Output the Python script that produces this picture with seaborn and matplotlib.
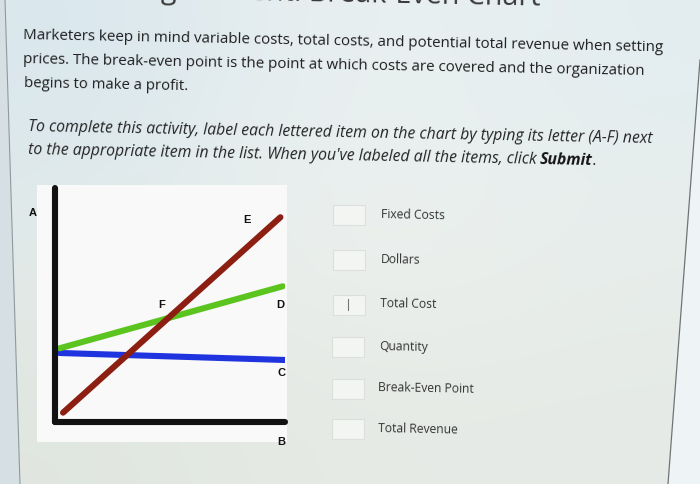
import numpy as np
import pandas as pd
import matplotlib
matplotlib.use("Agg")
import matplotlib.pyplot as plt
import seaborn as sns
from matplotlib.patches import Rectangle, Polygon

# ---------------- data ----------------
series_names = ["Fixed Costs", "Total Cost", "Total Revenue"]
fixed_q = [0.2, 10.0]
fixed_v = [2.95, 2.65]
total_cost_q = [0.2, 9.9]
total_cost_v = [3.15, 5.8]
revenue_q = [0.35, 9.8]
revenue_v = [0.4, 8.75]
line_colors = ["#1f33de", "#5cc41f", "#8c1f12"]

list_items = ["Fixed Costs", "Dollars", "Total Cost", "Quantity",
              "Break-Even Point", "Total Revenue"]
chart_letters = ["A", "E", "F", "D", "C", "B"]

title = "Marketing Element: Break-Even Chart"
para1 = ["Marketers keep in mind variable costs, total costs, and potential total revenue when setting",
         "prices. The break-even point is the point at which costs are covered and the organization",
         "begins to make a profit."]
para2_l1 = "To complete this activity, label each lettered item on the chart by typing its letter (A-F) next"
para2_l2 = ["to the appropriate item in the list. When you've labeled all the items, click ", "Submit", "."]

df = pd.DataFrame({
    "quantity": fixed_q + total_cost_q + revenue_q,
    "dollars": fixed_v + total_cost_v + revenue_v,
    "series": [series_names[0]] * 2 + [series_names[1]] * 2 + [series_names[2]] * 2,
})

# ---------------- figure ----------------
W, H = 700, 484
fig = plt.figure(figsize=(7, 4.84), dpi=100)
bg = fig.add_axes([0, 0, 1, 1])
bg.set_xlim(0, W)
bg.set_ylim(H, 0)
bg.axis("off")

def hx(c):
    c = c.lstrip("#")
    return [int(c[i:i + 2], 16) / 255 for i in (0, 2, 4)]

grad = np.array([
    [hx("#d9e7ed"), hx("#ecf1f1"), hx("#e3edf0")],
    [hx("#e2eaea"), hx("#eff2ef"), hx("#e8eeeb")],
    [hx("#e0e6df"), hx("#e7ebe6"), hx("#e5eae6")],
])
bg.imshow(grad, extent=(0, W, H, 0), interpolation="bicubic", aspect="auto", zorder=0)

# screen edges (photo)
bg.add_patch(Polygon([(0, 0), (5, 0), (20, H), (0, H)], closed=True,
                     facecolor="#d6e0e4", edgecolor="none", zorder=1))
bg.plot([5, 20], [0, H], color="#8e9a9e", lw=0.8, zorder=1.1)
bg.add_patch(Polygon([(700, 60), (668, H), (700, H)], closed=True,
                     facecolor="#eef3f6", edgecolor="none", zorder=1))
bg.plot([700, 668], [60, H], color="#6f7475", lw=0.9, zorder=1.1)

# white chart panel
bg.add_patch(Rectangle((37, 185), 250, 257, facecolor="#f8f9f8", edgecolor="none", zorder=1))

renderer = fig.canvas.get_renderer()
ROT = -1.1
rad = np.deg2rad(-ROT)

def measure(s, **kw):
    t = bg.text(0, 0, s, fontsize=10, **kw)
    w = t.get_window_extent(renderer).width
    t.remove()
    return w

def fit_text(x, y, s, target_w, ha="left", **kw):
    w = measure(s, **kw)
    fs = 10 * target_w / w
    bg.text(x, y, s, fontsize=fs, ha=ha, va="baseline", rotation=ROT,
            rotation_mode="anchor", zorder=3, **kw)
    return fs

body = dict(family="Open Sans", color="#1f1f1f")
ital = dict(family="Open Sans", color="#242424", style="italic")

# title (cut at the top, as in the photo)
wb = measure("Break-Even Chart", family="Open Sans")
fs_t = 10 * 230 / wb
bg.text(540, 5.5, title, fontsize=fs_t, ha="right", va="baseline", rotation=ROT,
        rotation_mode="anchor", family="Open Sans", color="#3a3a3a", zorder=3)

fit_text(23, 39, para1[0], 642, **body)
fit_text(23, 63, para1[1], 622, **body)
fit_text(24, 87, para1[2], 164, **body)
fit_text(28, 131, para2_l1, 625, **ital)

# mixed italic / bold italic line
styles = [dict(ital), dict(ital, weight="bold", color="#151515"), dict(ital)]
ws = [measure(p, **st) for p, st in zip(para2_l2, styles)]
scale = 569 / sum(ws)
cum = 0.0
for p, st, w in zip(para2_l2, styles, ws):
    x = 28 + cum * np.cos(rad)
    y = 154 + cum * np.sin(rad)
    bg.text(x, y, p, fontsize=10 * scale, ha="left", va="baseline", rotation=ROT,
            rotation_mode="anchor", zorder=3, **st)
    cum += w * scale

# list with input boxes
box_x = [333, 333, 333, 332, 332, 332]
box_y = [205, 250, 295, 337, 379, 419]
lab_x = [381, 381, 380, 379, 378, 378]
lab_y = [215, 260, 304, 347, 388, 429]
wl = measure("Break-Even Point", family="Open Sans")
fs_l = 10 * 96 / wl
for i, item in enumerate(list_items):
    bg.add_patch(Rectangle((box_x[i], box_y[i]), 32, 20, facecolor="#f3f5f3",
                           edgecolor="#dcdfdc", lw=0.8, zorder=2))
    bg.text(lab_x[i], lab_y[i], item, fontsize=fs_l, ha="left", va="center",
            rotation=ROT, rotation_mode="anchor", family="Open Sans",
            color="#333333", zorder=3)
bg.plot([348, 348], [299, 310], color="#777777", lw=0.8, zorder=3)

# ---------------- chart ----------------
ax = fig.add_axes([55 / W, 1 - 422 / H, 230 / W, 234 / H])
ax.set_facecolor("none")
sns.lineplot(data=df, x="quantity", y="dollars", hue="series",
             hue_order=series_names, palette=line_colors, linewidth=4.4,
             solid_capstyle="round", legend=False, ax=ax, zorder=2)
ax.set_xlim(0, 10)
ax.set_ylim(0, 10)
ax.set_xticks([])
ax.set_yticks([])
ax.set_xlabel("")
ax.set_ylabel("")
for side in ["top", "right"]:
    ax.spines[side].set_visible(False)
for side in ["left", "bottom"]:
    ax.spines[side].set_color("#121212")
    ax.spines[side].set_linewidth(4.4)
    ax.spines[side].set_capstyle("round")
    ax.spines[side].set_zorder(3)

letter_pos = [(33, 213), (247, 220), (162, 305), (280, 305), (281, 373), (281, 442)]
for let, (lx, ly) in zip(chart_letters, letter_pos):
    bg.text(lx, ly, let, fontsize=8, fontweight="bold", family="Liberation Sans",
            color="#111111", ha="center", va="center", zorder=3)

fig.savefig("out.png", dpi=100)
